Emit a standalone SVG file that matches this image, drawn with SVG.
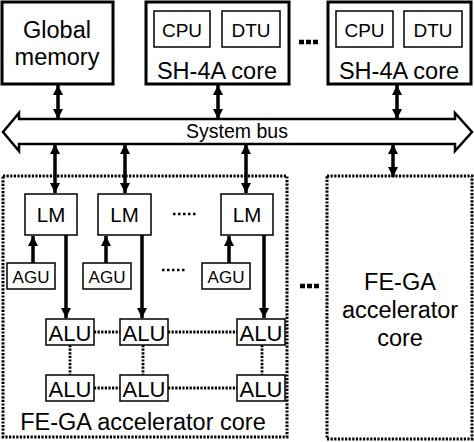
<svg xmlns="http://www.w3.org/2000/svg" width="474" height="442" viewBox="0 0 474 442">
<style>
text{font-family:"Liberation Sans",Arial,sans-serif;fill:#000;text-anchor:middle}
.big{font-size:23.5px}
.cpu{font-size:19px}
.lm{font-size:20.5px}
.agu{font-size:17px}
.alu{font-size:22px}
.bus{font-size:19.5px}
.thick{fill:#fff;stroke:#000;stroke-width:3}
.thin{fill:#fff;stroke:#000;stroke-width:1.5}
.dotbox{fill:none;stroke:#000;stroke-width:3;stroke-dasharray:2.2 1.4}
.arr{stroke:#000;stroke-width:3.5;fill:none}
.dl{stroke:#000;stroke-width:2.8;stroke-dasharray:2.2 1.4;fill:none}
.ell{stroke:#000;stroke-width:2.4;stroke-dasharray:2.5 2.5;fill:none}
.ell2{stroke:#000;stroke-width:4.5;stroke-dasharray:5 2;fill:none}
</style>
<defs>
<marker id="ah" viewBox="0 0 10 10" refX="10" refY="5" markerWidth="10" markerHeight="11" markerUnits="userSpaceOnUse" orient="auto-start-reverse">
<path d="M0,0 L10,5 L0,10 z" fill="#000"/>
</marker>
</defs>
<rect width="474" height="442" fill="#fff"/>

<g id="accel-left">
<rect class="dotbox" x="3" y="176" width="284" height="261"/>
<text class="big" x="143" y="430">FE-GA accelerator core</text>
</g>
<g id="accel-right">
<rect class="dotbox" x="327" y="176" width="145" height="263"/>
<text class="big" x="400" y="290">FE-GA</text>
<text class="big" x="400" y="318">accelerator</text>
<text class="big" x="400" y="346">core</text>
</g>

<g id="global-memory">
<rect class="thick" x="2" y="2" width="111" height="82"/>
<text class="big" x="57" y="38">Global</text>
<text class="big" x="57" y="65">memory</text>
</g>
<g id="sh4a-1">
<rect class="thick" x="146" y="2" width="143" height="82"/>
<rect class="thin" x="154" y="11" width="56" height="36"/>
<text class="cpu" x="182" y="37">CPU</text>
<rect class="thin" x="222" y="11" width="58" height="36"/>
<text class="cpu" x="251" y="37">DTU</text>
<text class="big" x="217" y="79">SH-4A core</text>
</g>
<g id="sh4a-2">
<rect class="thick" x="328" y="2" width="143" height="82"/>
<rect class="thin" x="336" y="11" width="57" height="36"/>
<text class="cpu" x="364.5" y="37">CPU</text>
<rect class="thin" x="404" y="11" width="58" height="36"/>
<text class="cpu" x="433" y="37">DTU</text>
<text class="big" x="399" y="79">SH-4A core</text>
</g>

<g id="system-bus">
<polygon points="3,132 19,113 19,119 455,119 455,113 472,132 455,151 455,144 19,144 19,151" fill="#fff" stroke="#000" stroke-width="2.5" stroke-linejoin="miter"/>
<text class="bus" x="237" y="138">System bus</text>
</g>

<g id="lm-1"><rect class="thin" x="25" y="194" width="52" height="41"/><text class="lm" x="51" y="222">LM</text></g>
<g id="lm-2"><rect class="thin" x="98" y="194" width="53" height="41"/><text class="lm" x="124.5" y="222">LM</text></g>
<g id="lm-3"><rect class="thin" x="221" y="194" width="52" height="41"/><text class="lm" x="247" y="222">LM</text></g>

<g id="agu-1"><rect class="thin" x="7" y="263" width="48" height="26"/><text class="agu" x="31" y="283">AGU</text></g>
<g id="agu-2"><rect class="thin" x="83" y="263" width="48" height="26"/><text class="agu" x="107" y="283">AGU</text></g>
<g id="agu-3"><rect class="thin" x="202" y="263" width="48" height="26"/><text class="agu" x="226" y="283">AGU</text></g>

<g id="alu-11"><rect class="thin" x="46" y="319" width="48" height="26"/><text class="alu" x="70" y="341">ALU</text></g>
<g id="alu-12"><rect class="thin" x="120" y="319" width="48" height="26"/><text class="alu" x="144" y="341">ALU</text></g>
<g id="alu-13"><rect class="thin" x="237" y="319" width="48" height="26"/><text class="alu" x="261" y="341">ALU</text></g>
<g id="alu-21"><rect class="thin" x="46" y="375" width="48" height="26"/><text class="alu" x="70" y="397">ALU</text></g>
<g id="alu-22"><rect class="thin" x="120" y="375" width="48" height="26"/><text class="alu" x="144" y="397">ALU</text></g>
<g id="alu-23"><rect class="thin" x="237" y="375" width="48" height="26"/><text class="alu" x="261" y="397">ALU</text></g>

<g id="connectors">
<line class="arr" x1="58" y1="85" x2="58" y2="119" marker-start="url(#ah)" marker-end="url(#ah)"/>
<line class="arr" x1="218" y1="85" x2="218" y2="119" marker-start="url(#ah)" marker-end="url(#ah)"/>
<line class="arr" x1="397" y1="85" x2="397" y2="119" marker-start="url(#ah)" marker-end="url(#ah)"/>
<line class="arr" x1="55" y1="144" x2="55" y2="193" marker-start="url(#ah)" marker-end="url(#ah)"/>
<line class="arr" x1="125" y1="144" x2="125" y2="193" marker-start="url(#ah)" marker-end="url(#ah)"/>
<line class="arr" x1="246" y1="144" x2="246" y2="193" marker-start="url(#ah)" marker-end="url(#ah)"/>
<line class="arr" x1="393" y1="144" x2="393" y2="177" marker-start="url(#ah)" marker-end="url(#ah)"/>
<line class="arr" x1="33" y1="263" x2="33" y2="236" marker-end="url(#ah)"/>
<line class="arr" x1="106" y1="263" x2="106" y2="236" marker-end="url(#ah)"/>
<line class="arr" x1="229" y1="263" x2="229" y2="236" marker-end="url(#ah)"/>
<line class="arr" x1="66" y1="235" x2="66" y2="318" marker-end="url(#ah)"/>
<line class="arr" x1="142" y1="235" x2="142" y2="318" marker-end="url(#ah)"/>
<line class="arr" x1="264" y1="235" x2="264" y2="318" marker-end="url(#ah)"/>
<line class="dl" x1="94" y1="332" x2="120" y2="332"/>
<line class="dl" x1="168" y1="332" x2="237" y2="332"/>
<line class="dl" x1="94" y1="388" x2="120" y2="388"/>
<line class="dl" x1="168" y1="388" x2="237" y2="388"/>
<line class="dl" x1="70" y1="345" x2="70" y2="375"/>
<line class="dl" x1="143" y1="345" x2="143" y2="375"/>
<line class="dl" x1="262" y1="345" x2="262" y2="375"/>
</g>

<g id="ellipses">
<line class="ell" x1="173" y1="214" x2="198" y2="214"/>
<line class="ell" x1="162" y1="270" x2="185" y2="270"/>
<line class="ell2" x1="299" y1="42" x2="320" y2="42"/>
<line class="ell2" x1="300" y1="286" x2="321" y2="286"/>
</g>
</svg>
